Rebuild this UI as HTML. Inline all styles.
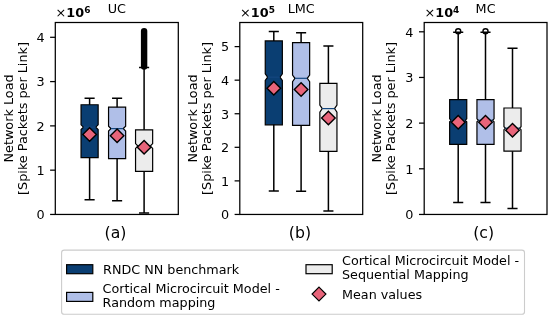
<!DOCTYPE html>
<html><head><meta charset="utf-8"><title>Network Load boxplots</title>
<style>
html,body{margin:0;padding:0;background:#fff;overflow:hidden;}
svg{display:block;}
text{font-family:"DejaVu Sans", "Liberation Sans", sans-serif;fill:#000;}
</style></head>
<body>
<svg width="550" height="319" viewBox="0 0 550 319">
<rect x="0" y="0" width="550" height="319" fill="#fff"/>
<g>
<path d="M89.6 104.75V98.25M89.6 157.6V199.8M85.3 98.25H93.9M85.3 199.8H93.9" stroke="#000" stroke-width="1.5" stroke-linecap="square" fill="none"/>
<path d="M81.05 157.6H98.15V129.6L95.75 127.2L98.15 124.8V104.75H81.05V124.8L83.45 127.2L81.05 129.6Z" fill="#0a3e72" stroke="#000" stroke-width="1.2" stroke-linejoin="miter"/>
<path d="M83.45 127.2H95.75" stroke="#14477f" stroke-width="1.2"/>
<path d="M89.6 127.7L96.4 134.5L89.6 141.3L82.8 134.5Z" fill="#e8647a" stroke="#000" stroke-width="1.4" stroke-linejoin="miter"/>
<path d="M117.1 107.15V98.25M117.1 158.6V200.8M112.8 98.25H121.4M112.8 200.8H121.4" stroke="#000" stroke-width="1.5" stroke-linecap="square" fill="none"/>
<path d="M108.55 158.6H125.65V131L123.25 128.6L125.65 126.2V107.15H108.55V126.2L110.95 128.6L108.55 131Z" fill="#b0bfe8" stroke="#000" stroke-width="1.2" stroke-linejoin="miter"/>
<path d="M110.95 128.6H123.25" stroke="#14477f" stroke-width="1.2"/>
<path d="M117.1 129L123.9 135.8L117.1 142.6L110.3 135.8Z" fill="#e8647a" stroke="#000" stroke-width="1.4" stroke-linejoin="miter"/>
<path d="M144.1 129.8V67.55M144.1 171.4V212.9M139.8 67.55H148.4M139.8 212.9H148.4" stroke="#000" stroke-width="1.5" stroke-linecap="square" fill="none"/>
<path d="M144.1 31.1V66.5" stroke="#000" stroke-width="6.4" stroke-linecap="round" fill="none"/>
<path d="M135.55 171.4H152.65V148.4L150.25 146L152.65 143.6V129.8H135.55V143.6L137.95 146L135.55 148.4Z" fill="#ececec" stroke="#000" stroke-width="1.2" stroke-linejoin="miter"/>
<path d="M137.95 146H150.25" stroke="#14477f" stroke-width="1.2"/>
<path d="M144.1 140.4L150.9 147.2L144.1 154L137.3 147.2Z" fill="#e8647a" stroke="#000" stroke-width="1.4" stroke-linejoin="miter"/>
<rect x="55.3" y="22.5" width="123" height="191.95" fill="none" stroke="#000" stroke-width="1.25"/>
<path d="M55.3 214.45h-5.2" stroke="#000" stroke-width="1.25"/>
<text x="44.6" y="219.3" text-anchor="end" font-size="12.8">0</text>
<path d="M55.3 170.16h-5.2" stroke="#000" stroke-width="1.25"/>
<text x="44.6" y="175.01" text-anchor="end" font-size="12.8">1</text>
<path d="M55.3 125.88h-5.2" stroke="#000" stroke-width="1.25"/>
<text x="44.6" y="130.72" text-anchor="end" font-size="12.8">2</text>
<path d="M55.3 81.59h-5.2" stroke="#000" stroke-width="1.25"/>
<text x="44.6" y="86.44" text-anchor="end" font-size="12.8">3</text>
<path d="M55.3 37.3h-5.2" stroke="#000" stroke-width="1.25"/>
<text x="44.6" y="42.15" text-anchor="end" font-size="12.8">4</text>
<text x="55.6" y="17.4" font-size="12.8">×<tspan font-weight="bold">10</tspan><tspan font-weight="bold" font-size="8.96" dy="-4.0">6</tspan></text>
<text x="116.8" y="12.9" text-anchor="middle" font-size="12.8">UC</text>
<text x="115.5" y="238.3" text-anchor="middle" font-size="15.7">(a)</text>
<text transform="translate(12.7 118.47) rotate(-90)" text-anchor="middle" font-size="12.8">Network Load</text>
<text transform="translate(27.1 118.47) rotate(-90)" text-anchor="middle" font-size="12.8">[Spike Packets per Link]</text>
</g>
<g>
<path d="M273.8 40.9V31.5M273.8 124.8V190.9M269.5 31.5H278.1M269.5 190.9H278.1" stroke="#000" stroke-width="1.5" stroke-linecap="square" fill="none"/>
<path d="M265.25 124.8H282.35V80.5L279.95 77.2L282.35 73.9V40.9H265.25V73.9L267.65 77.2L265.25 80.5Z" fill="#0a3e72" stroke="#000" stroke-width="1.2" stroke-linejoin="miter"/>
<path d="M267.65 77.2H279.95" stroke="#14477f" stroke-width="1.2"/>
<path d="M273.8 81.4L280.6 88.2L273.8 95L267 88.2Z" fill="#e8647a" stroke="#000" stroke-width="1.4" stroke-linejoin="miter"/>
<path d="M301.1 42.7V32.8M301.1 125.3V191.3M296.8 32.8H305.4M296.8 191.3H305.4" stroke="#000" stroke-width="1.5" stroke-linecap="square" fill="none"/>
<path d="M292.55 125.3H309.65V81.6L307.25 78.3L309.65 75V42.7H292.55V75L294.95 78.3L292.55 81.6Z" fill="#b0bfe8" stroke="#000" stroke-width="1.2" stroke-linejoin="miter"/>
<path d="M294.95 78.3H307.25" stroke="#14477f" stroke-width="1.2"/>
<path d="M301.1 82.7L307.9 89.5L301.1 96.3L294.3 89.5Z" fill="#e8647a" stroke="#000" stroke-width="1.4" stroke-linejoin="miter"/>
<path d="M328.4 83.3V45.9M328.4 151.3V210.9M324.1 45.9H332.7M324.1 210.9H332.7" stroke="#000" stroke-width="1.5" stroke-linecap="square" fill="none"/>
<path d="M319.85 151.3H336.95V112.1L334.55 108.6L336.95 105.1V83.3H319.85V105.1L322.25 108.6L319.85 112.1Z" fill="#ececec" stroke="#000" stroke-width="1.2" stroke-linejoin="miter"/>
<path d="M322.25 108.6H334.55" stroke="#14477f" stroke-width="1.2"/>
<path d="M328.4 111.2L335.2 118L328.4 124.8L321.6 118Z" fill="#e8647a" stroke="#000" stroke-width="1.4" stroke-linejoin="miter"/>
<rect x="239.8" y="22.5" width="122.9" height="191.95" fill="none" stroke="#000" stroke-width="1.25"/>
<path d="M239.8 214.45h-5.2" stroke="#000" stroke-width="1.25"/>
<text x="229.1" y="219.3" text-anchor="end" font-size="12.8">0</text>
<path d="M239.8 180.88h-5.2" stroke="#000" stroke-width="1.25"/>
<text x="229.1" y="185.73" text-anchor="end" font-size="12.8">1</text>
<path d="M239.8 147.31h-5.2" stroke="#000" stroke-width="1.25"/>
<text x="229.1" y="152.16" text-anchor="end" font-size="12.8">2</text>
<path d="M239.8 113.74h-5.2" stroke="#000" stroke-width="1.25"/>
<text x="229.1" y="118.59" text-anchor="end" font-size="12.8">3</text>
<path d="M239.8 80.17h-5.2" stroke="#000" stroke-width="1.25"/>
<text x="229.1" y="85.02" text-anchor="end" font-size="12.8">4</text>
<path d="M239.8 46.6h-5.2" stroke="#000" stroke-width="1.25"/>
<text x="229.1" y="51.45" text-anchor="end" font-size="12.8">5</text>
<text x="240.1" y="17.4" font-size="12.8">×<tspan font-weight="bold">10</tspan><tspan font-weight="bold" font-size="8.96" dy="-4.0">5</tspan></text>
<text x="301.25" y="12.9" text-anchor="middle" font-size="12.8">LMC</text>
<text x="299.95" y="238.3" text-anchor="middle" font-size="15.7">(b)</text>
<text transform="translate(196.7 118.47) rotate(-90)" text-anchor="middle" font-size="12.8">Network Load</text>
<text transform="translate(210.6 118.47) rotate(-90)" text-anchor="middle" font-size="12.8">[Spike Packets per Link]</text>
</g>
<g>
<path d="M458.2 99.6V32.3M458.2 144.3V202.6M453.9 32.3H462.5M453.9 202.6H462.5" stroke="#000" stroke-width="1.5" stroke-linecap="square" fill="none"/>
<circle cx="458.2" cy="31.3" r="2.55" fill="#fff" fill-opacity="0" stroke="#000" stroke-width="1.35"/>
<path d="M449.65 144.3H466.75V121.8L465.25 120.3L466.75 118.8V99.6H449.65V118.8L451.15 120.3L449.65 121.8Z" fill="#0a3e72" stroke="#000" stroke-width="1.2" stroke-linejoin="miter"/>
<path d="M451.15 120.3H465.25" stroke="#14477f" stroke-width="1.2"/>
<path d="M458.2 115.4L465 122.2L458.2 129L451.4 122.2Z" fill="#e8647a" stroke="#000" stroke-width="1.4" stroke-linejoin="miter"/>
<path d="M485.5 99.6V32.3M485.5 144.3V202.6M481.2 32.3H489.8M481.2 202.6H489.8" stroke="#000" stroke-width="1.5" stroke-linecap="square" fill="none"/>
<circle cx="485.5" cy="31.3" r="2.55" fill="#fff" fill-opacity="0" stroke="#000" stroke-width="1.35"/>
<path d="M476.95 144.3H494.05V121.8L492.55 120.3L494.05 118.8V99.6H476.95V118.8L478.45 120.3L476.95 121.8Z" fill="#b0bfe8" stroke="#000" stroke-width="1.2" stroke-linejoin="miter"/>
<path d="M478.45 120.3H492.55" stroke="#14477f" stroke-width="1.2"/>
<path d="M485.5 115.4L492.3 122.2L485.5 129L478.7 122.2Z" fill="#e8647a" stroke="#000" stroke-width="1.4" stroke-linejoin="miter"/>
<path d="M512.5 108V48.2M512.5 151.2V208.4M508.2 48.2H516.8M508.2 208.4H516.8" stroke="#000" stroke-width="1.5" stroke-linecap="square" fill="none"/>
<path d="M503.95 151.2H521.05V129.7L519.55 128.2L521.05 126.7V108H503.95V126.7L505.45 128.2L503.95 129.7Z" fill="#ececec" stroke="#000" stroke-width="1.2" stroke-linejoin="miter"/>
<path d="M505.45 128.2H519.55" stroke="#14477f" stroke-width="1.2"/>
<path d="M512.5 123.5L519.3 130.3L512.5 137.1L505.7 130.3Z" fill="#e8647a" stroke="#000" stroke-width="1.4" stroke-linejoin="miter"/>
<rect x="424.2" y="22.5" width="122.8" height="191.95" fill="none" stroke="#000" stroke-width="1.25"/>
<path d="M424.2 214.45h-5.2" stroke="#000" stroke-width="1.25"/>
<text x="413.5" y="219.3" text-anchor="end" font-size="12.8">0</text>
<path d="M424.2 168.79h-5.2" stroke="#000" stroke-width="1.25"/>
<text x="413.5" y="173.64" text-anchor="end" font-size="12.8">1</text>
<path d="M424.2 123.12h-5.2" stroke="#000" stroke-width="1.25"/>
<text x="413.5" y="127.97" text-anchor="end" font-size="12.8">2</text>
<path d="M424.2 77.46h-5.2" stroke="#000" stroke-width="1.25"/>
<text x="413.5" y="82.31" text-anchor="end" font-size="12.8">3</text>
<path d="M424.2 31.8h-5.2" stroke="#000" stroke-width="1.25"/>
<text x="413.5" y="36.65" text-anchor="end" font-size="12.8">4</text>
<text x="424.5" y="17.4" font-size="12.8">×<tspan font-weight="bold">10</tspan><tspan font-weight="bold" font-size="8.96" dy="-4.0">4</tspan></text>
<text x="485.6" y="12.9" text-anchor="middle" font-size="12.8">MC</text>
<text x="483.6" y="238.3" text-anchor="middle" font-size="15.7">(c)</text>
<text transform="translate(380.8 118.47) rotate(-90)" text-anchor="middle" font-size="12.8">Network Load</text>
<text transform="translate(394.7 118.47) rotate(-90)" text-anchor="middle" font-size="12.8">[Spike Packets per Link]</text>
</g>
<g>
<rect x="61.6" y="250.1" width="462.9" height="64.2" rx="2.6" ry="2.6" fill="#fff" stroke="#cccccc" stroke-width="1.1"/>
<rect x="66.6" y="264.7" width="26.2" height="9" fill="#0a3e72" stroke="#000" stroke-width="1.2"/>
<text x="103.1" y="273.7" font-size="12.74">RNDC NN benchmark</text>
<rect x="66.6" y="292.4" width="26.2" height="9" fill="#b0bfe8" stroke="#000" stroke-width="1.2"/>
<text x="102.6" y="293" font-size="12.74">Cortical Microcircuit Model -</text>
<text x="102.6" y="307.2" font-size="12.74">Random mapping</text>
<rect x="306" y="264.7" width="26.2" height="9" fill="#ececec" stroke="#000" stroke-width="1.2"/>
<text x="342" y="264.9" font-size="12.74">Cortical Microcircuit Model -</text>
<text x="342" y="279.2" font-size="12.74">Sequential Mapping</text>
<path d="M319 287.2L325.9 294.1L319 301L312.1 294.1Z" fill="#e8647a" stroke="#000" stroke-width="1.2"/>
<text x="342" y="298.5" font-size="12.74">Mean values</text>
</g>
</svg>
</body></html>
